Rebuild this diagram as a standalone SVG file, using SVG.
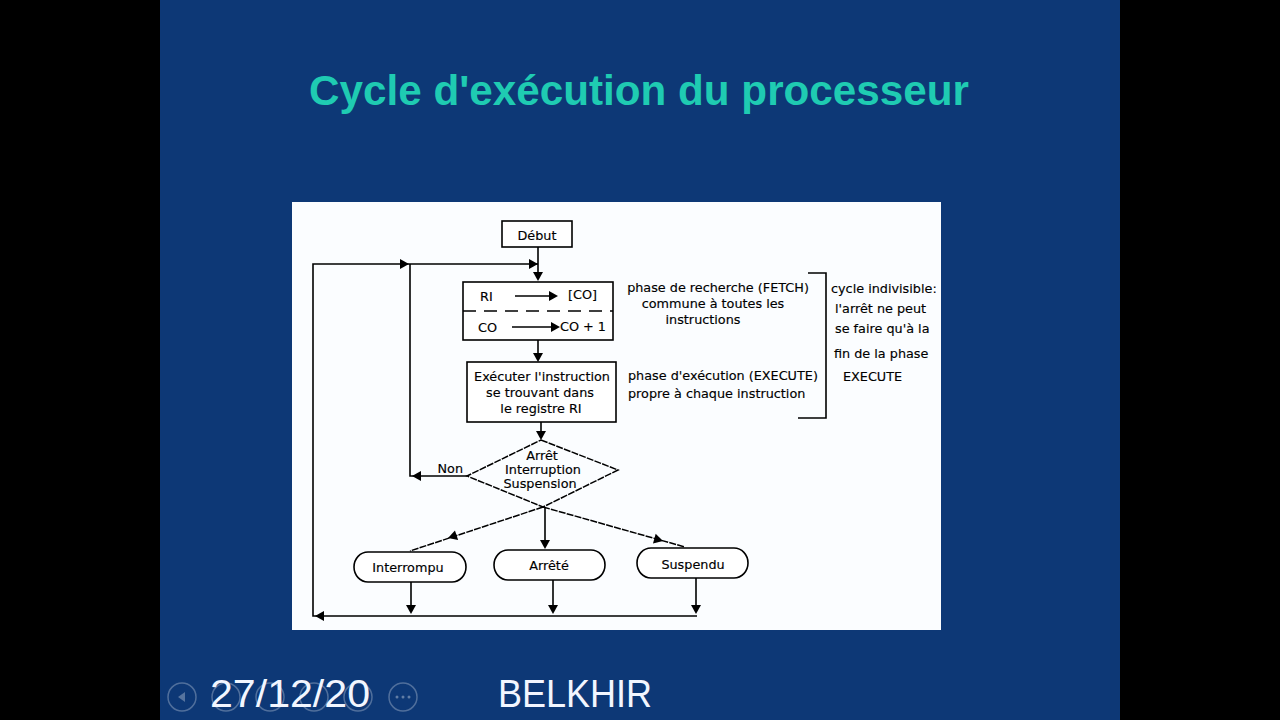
<svg xmlns="http://www.w3.org/2000/svg" width="1280" height="720" viewBox="0 0 1280 720">
<defs>
<style>
.ln{fill:none;stroke:#000;stroke-width:1.6}
.dg{fill:none;stroke:#000;stroke-width:1.5;stroke-dasharray:7 1.2}
.bx{fill:#fff;stroke:#000;stroke-width:1.6}
.t{font-family:"DejaVu Sans",Verdana,sans-serif;font-size:12.8px;fill:#000;stroke:#000;stroke-width:0.15}
.m{text-anchor:middle}
.fc{fill:none;stroke:#fff;stroke-opacity:0.28;stroke-width:1.5}
</style>
<path id="ah" d="M0,0 L-9,-5 L-9,5 Z" fill="#000"/>
</defs>
<rect x="0" y="0" width="1280" height="720" fill="#000"/>
<rect x="160" y="0" width="960" height="720" fill="#0d3876"/>
<text x="639" y="105" text-anchor="middle" font-family="Liberation Sans, Arial, sans-serif" font-weight="bold" font-size="42" fill="#1fcbb2" textLength="660" lengthAdjust="spacingAndGlyphs">Cycle d'exécution du processeur</text>
<rect x="292" y="202" width="649" height="428" fill="#fbfdff"/>

<g id="connectors">
<path class="ln" d="M538,247 V279"/>
<path class="ln" d="M697,616 H313 V264 H538"/>
<path class="ln" d="M467,476 H410 V264"/>
<path class="ln" d="M538,340 V360"/>
<path class="ln" d="M541,422 V438"/>
<path class="ln" d="M545,507 V547"/>
<path class="dg" d="M543,507 L410,551"/>
<path class="dg" d="M543,507 L685,547"/>
<path class="ln" d="M411,582 V612"/>
<path class="ln" d="M553,580 V612"/>
<path class="ln" d="M696,578 V612"/>
<use href="#ah" transform="translate(409,264)"/>
<use href="#ah" transform="translate(538,264)"/>
<use href="#ah" transform="translate(538,281) rotate(90)"/>
<use href="#ah" transform="translate(538,362) rotate(90)"/>
<use href="#ah" transform="translate(541,440) rotate(90)"/>
<use href="#ah" transform="translate(412,476) rotate(180)"/>
<use href="#ah" transform="translate(315,616) rotate(180)"/>
<use href="#ah" transform="translate(545,549) rotate(90)"/>
<use href="#ah" transform="translate(448,538) rotate(161.7)"/>
<use href="#ah" transform="translate(663,541) rotate(15.7)"/>
<use href="#ah" transform="translate(411,614) rotate(90)"/>
<use href="#ah" transform="translate(553,614) rotate(90)"/>
<use href="#ah" transform="translate(696,614) rotate(90)"/>
</g>

<g id="debut">
<rect class="bx" x="502" y="221" width="70" height="26"/>
<text class="t m" x="537" y="239.5">Début</text>
</g>

<g id="fetch">
<rect class="bx" x="463" y="282" width="150" height="58"/>
<path class="ln" d="M463,311 H613" stroke-dasharray="13 8"/>
<text class="t" x="480" y="301">RI</text>
<path class="ln" d="M515,296 H550"/>
<use href="#ah" transform="translate(558,296)"/>
<text class="t" x="568" y="299">[CO]</text>
<text class="t" x="478" y="332">CO</text>
<path class="ln" d="M512,327 H552"/>
<use href="#ah" transform="translate(560,327)"/>
<text class="t" x="560" y="331">CO + 1</text>
</g>

<g id="execute">
<rect class="bx" x="467" y="362" width="149" height="60"/>
<text class="t m" x="542" y="380.5">Exécuter l'instruction</text>
<text class="t m" x="540" y="396.5">se trouvant dans</text>
<text class="t m" x="541" y="412.5">le registre RI</text>
</g>

<g id="decision">
<polygon class="dg" points="541,440 618,470 543,507 467,476" fill="#fff"/>
<text class="t m" x="542" y="459.5">Arrêt</text>
<text class="t m" x="543" y="473.5">Interruption</text>
<text class="t m" x="540" y="487.5">Suspension</text>
<text class="t" x="463" y="472.5" text-anchor="end">Non</text>
</g>

<g id="interrompu">
<rect class="bx" x="354" y="552" width="112" height="30" rx="14" ry="15"/>
<text class="t m" x="408" y="571.5">Interrompu</text>
</g>
<g id="arrete">
<rect class="bx" x="494" y="550" width="111" height="30" rx="14" ry="15"/>
<text class="t m" x="549" y="569.5">Arrêté</text>
</g>
<g id="suspendu">
<rect class="bx" x="637" y="548" width="111" height="30" rx="14" ry="15"/>
<text class="t m" x="693" y="568.5">Suspendu</text>
</g>

<g id="annotations">
<text class="t m" x="718" y="292">phase de recherche (FETCH)</text>
<text class="t m" x="713" y="307.5">commune à toutes les</text>
<text class="t m" x="703" y="323.5">instructions</text>
<text class="t" x="628" y="380">phase d'exécution (EXECUTE)</text>
<text class="t" x="628" y="397.5">propre à chaque instruction</text>
<path class="ln" d="M808,273 H826 V418 H798"/>
<text class="t" x="831" y="292.5">cycle indivisible:</text>
<text class="t" x="835" y="312.5">l'arrêt ne peut</text>
<text class="t" x="835" y="332.5">se faire qu'à la</text>
<text class="t" x="834" y="357.5">fin de la phase</text>
<text class="t" x="843" y="380.5">EXECUTE</text>
</g>

<g id="footer">
<circle class="fc" cx="182" cy="697" r="14"/>
<path d="M178,697 L185,692 L185,702 Z" fill="#fff" fill-opacity="0.3"/>
<circle class="fc" cx="226" cy="697" r="14"/>
<circle class="fc" cx="270" cy="697" r="14"/>
<circle class="fc" cx="314" cy="697" r="14"/>
<circle class="fc" cx="358" cy="697" r="14"/>
<circle class="fc" cx="403" cy="697" r="14"/>
<circle cx="397" cy="697" r="1.5" fill="#fff" fill-opacity="0.35"/>
<circle cx="403" cy="697" r="1.5" fill="#fff" fill-opacity="0.35"/>
<circle cx="409" cy="697" r="1.5" fill="#fff" fill-opacity="0.35"/>
<text x="210" y="707" font-family="Liberation Sans, Arial, sans-serif" font-size="38" fill="#f2f6ff" textLength="160" lengthAdjust="spacingAndGlyphs">27/12/20</text>
<text x="498" y="707" font-family="Liberation Sans, Arial, sans-serif" font-size="38" fill="#f2f6ff" textLength="154" lengthAdjust="spacingAndGlyphs">BELKHIR</text>
</g>
</svg>
